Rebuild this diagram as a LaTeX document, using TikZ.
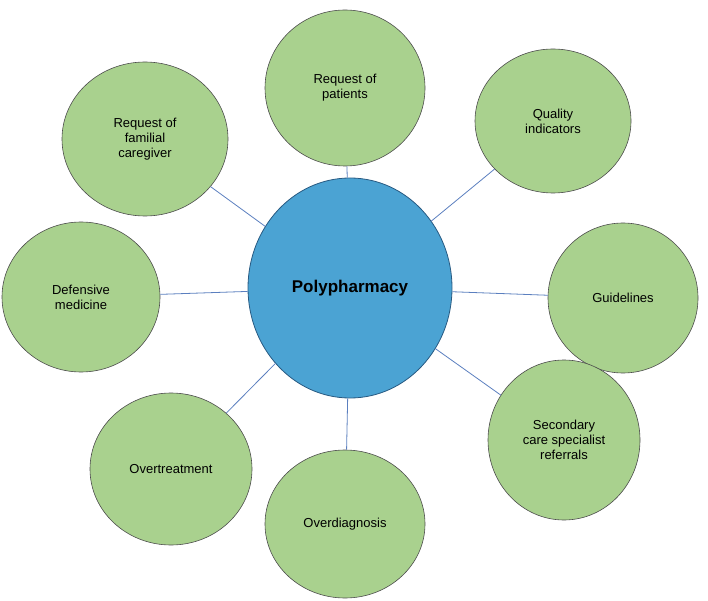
\documentclass[tikz,border=0pt]{standalone}
\usepackage{fontspec}
\setmainfont{Liberation Sans}
\usetikzlibrary{shapes.geometric}
\begin{document}
\begin{tikzpicture}[x=1pt,y=1pt,
  leaf/.style={ellipse,draw=black!70,fill={rgb,255:red,169;green,209;blue,142},line width=0.6pt,inner sep=0pt,align=center,font=\fontsize{13}{15}\selectfont},
  hub/.style={ellipse,draw={rgb,255:red,40;green,90;blue,130},fill={rgb,255:red,75;green,163;blue,211},line width=0.8pt,font=\bfseries\fontsize{17}{20}\selectfont},
  link/.style={draw={rgb,255:red,91;green,127;blue,191},line width=0.8pt}]
\useasboundingbox (0,0) rectangle (708,600);
\node[hub,minimum width=204,minimum height=220] (c) at (350,312) {Polypharmacy};
\node[leaf,minimum width=160,minimum height=156] (a) at (345,512) {Request of\\patients};
\node[leaf,minimum width=156,minimum height=144] (b) at (553,479) {Quality\\indicators};
\node[leaf,minimum width=150,minimum height=150] (g) at (623,302) {Guidelines};
\node[leaf,minimum width=152,minimum height=160] (s) at (564,160) {Secondary\\care specialist\\referrals};
\node[leaf,minimum width=160,minimum height=148] (d) at (345,76) {Overdiagnosis};
\node[leaf,minimum width=162,minimum height=152] (t) at (171,131) {Overtreatment};
\node[leaf,minimum width=158,minimum height=150] (m) at (81,303) {Defensive\\medicine};
\node[leaf,minimum width=166,minimum height=154] (f) at (145,461) {Request of\\familial\\caregiver};
\foreach \n in {a,b,g,s,d,t,m,f} \draw[link] (c) -- (\n);
\end{tikzpicture}
\end{document}
